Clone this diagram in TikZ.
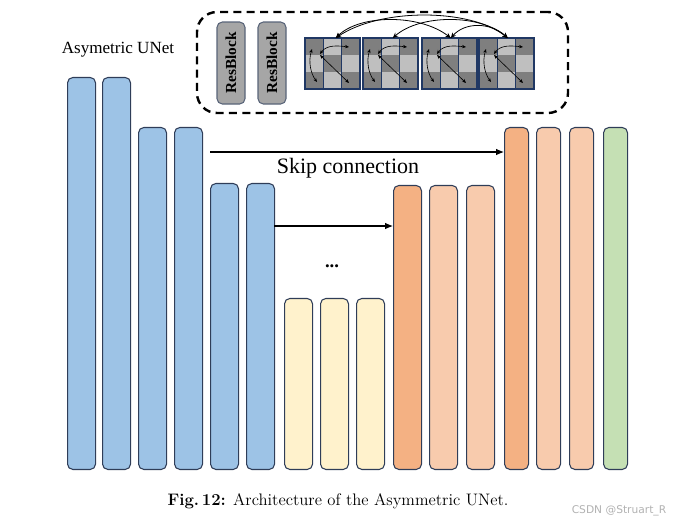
\documentclass[tikz,border=0pt]{standalone}
\usepackage{fontspec}
\newfontfamily\tnr{Liberation Serif}
\newfontfamily\wmfont{DejaVu Sans}
\usetikzlibrary{arrows.meta,calc}
\definecolor{cblue}{HTML}{9DC3E6}
\definecolor{cyel}{HTML}{FFF2CC}
\definecolor{corD}{HTML}{F4B183}
\definecolor{corL}{HTML}{F8CBAD}
\definecolor{cgreen}{HTML}{C5E0B4}
\definecolor{cedge}{HTML}{2F3D58}
\definecolor{gdark}{HTML}{7F7F7F}
\definecolor{glight}{HTML}{BFBFBF}
\definecolor{gline}{HTML}{203864}
\definecolor{rbfill}{HTML}{A6A6A6}
\tikzset{
  barbox/.style={draw=cedge, line width=0.8pt, rounded corners=4pt, anchor=south west, inner sep=0pt},
  resbox/.style={draw=cedge!80, fill=rbfill, line width=0.8pt, rounded corners=4pt, rotate=90,
     minimum width=0.75*82pt, minimum height=0.75*28pt, inner sep=0pt,
     font=\tnr\fontsize{11.5}{12}\selectfont\bfseries},
  panelbox/.style={draw=black, line width=1.8pt, dash pattern=on 6pt off 4pt, rounded corners=15pt,
     minimum width=0.75*371pt, minimum height=0.75*101pt, inner sep=0pt},
  gridbox/.style={minimum width=0.75*55pt, minimum height=0.75*51pt, inner sep=0pt, anchor=north west},
  skiparrow/.style={line width=0.8pt, -{Latex[length=6pt,width=5pt]}},
  inarrow/.style={line width=0.45pt, {Stealth[length=3pt,width=2.5pt]}-{Stealth[length=3pt,width=2.5pt]}},
  toparrow/.style={line width=0.6pt, {Stealth[length=4pt,width=3.5pt]}-{Stealth[length=4pt,width=3.5pt]}}
}
\begin{document}
\begin{tikzpicture}[x=0.75pt,y=-0.75pt]
\useasboundingbox (0,0) rectangle (674,525);
% bars
\foreach \n/\x/\w/\t/\c in {b1/67/28/78/cblue, b2/102/28/78/cblue, b3/138/28/128/cblue, b4/174/28/128/cblue,
  b5/210/28/184/cblue, b6/246/28/184/cblue,
  y1/284/28/299/cyel, y2/320/28/299/cyel, y3/356/28/299/cyel,
  o1/393/28/186/corD, o2/429/28/186/corL, o3/466/28/186/corL,
  o4/504/24/128/corD, o5/536/24/128/corL, o6/569/24/128/corL, g0/603/24/128/cgreen}
{
  \node[barbox, fill=\c, minimum width={0.75*\w*1pt}, minimum height={0.75*(470-\t)*1pt}] (\n) at (\x,470) {};
}
% labels
\node[font=\tnr\fontsize{12.8}{14}\selectfont] (title) at (118,50) {Asymetric UNet};
\node[font=\tnr\fontsize{16.5}{18}\selectfont] (skiptxt) at (348,168) {Skip connection};
\node[font=\tnr\fontsize{14}{16}\selectfont\bfseries] (dots) at (332,266) {...};
% skip arrows
\coordinate (s1) at (210,152);
\draw[skiparrow] (s1) -- (s1 -| o4.west);
\coordinate (s2) at (274,226);
\draw[skiparrow] (s2) -- (s2 -| o1.west);
% panel
\node[panelbox] (panel) at (382.5,62.5) {};
\node[resbox] (rb1) at (231,63) {ResBlock};
\node[resbox] (rb2) at (272,63) {ResBlock};
% grids
\foreach \g/\gx in {ga/305, gb/363, gc/422, gd/479}
{
  \node[gridbox] (\g) at (\gx,38) {};
  \begin{scope}[shift={(\gx,38)}]
    \foreach \i in {0,1,2}{
      \foreach \j in {0,1,2}{
        \pgfmathparse{int(mod(\i+\j,2))}
        \ifnum\pgfmathresult=0
          \fill[gdark] (\i*18.33,\j*17) rectangle ++(18.33,17);
        \else
          \fill[glight] (\i*18.33,\j*17) rectangle ++(18.33,17);
        \fi
      }
    }
    \draw[gline, line width=0.9pt] (0,0) grid[xstep=18.33, ystep=17] (55,51);
    \draw[gline, line width=0.9pt] (0,0) rectangle (55,51);
    \draw[inarrow] (15,16) .. controls (22,6) and (35,8) .. (44,9);
    \draw[inarrow] (15,17) -- (44,45);
    \draw[inarrow] (7,11) .. controls (3,24) and (6,36) .. (12,44);
  \end{scope}
}
% connections between grids
\draw[toparrow] ($(ga.north)+(3,0)$) .. controls (360,14) and (420,14) .. ($(gc.north)+(1,0)$);
\draw[toparrow] ($(gb.north)+(2,0)$) .. controls (420,14) and (480,14) .. ($(gd.north)+(1,0)$);
\draw[toparrow] ($(ga.north)+(3,0)$) .. controls (380,8) and (470,8) .. ($(gd.north)+(1,0)$);
\draw[toparrow] ($(gc.north)+(1,0)$) .. controls (465,22) and (490,22) .. ($(gd.north)+(1,0)$);
% caption
\node[font=\fontsize{12.5}{14}\selectfont] (caption) at (338,501) {\textbf{Fig.\,12:} Architecture of the Asymmetric UNet.};
\node[font=\wmfont\fontsize{8}{9}\selectfont, text=black!30] (wm) at (619,511) {CSDN @Struart\_R};
\end{tikzpicture}
\end{document}
